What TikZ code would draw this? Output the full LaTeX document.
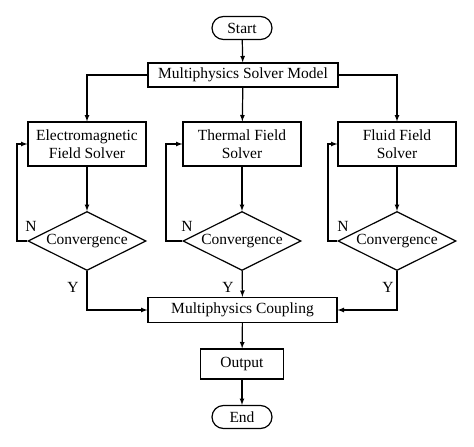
\documentclass[tikz,border=0pt]{standalone}
\usepackage{fontspec}
\setmainfont{Liberation Serif}
\usetikzlibrary{shapes.geometric}

\begin{document}
\begin{tikzpicture}[x=1pt,y=-1pt,line width=1.2pt,font=\fontsize{15.5}{18.5}\selectfont,
    term/.style={rectangle,rounded corners=11.5pt,draw,minimum width=60pt,minimum height=23pt,inner sep=0pt},
    box/.style={rectangle,draw,inner sep=0pt,align=center},
    solver/.style={box,minimum width=118pt,minimum height=44pt},
    test/.style={diamond,draw,aspect=2,inner sep=0pt,minimum width=118pt,minimum height=59pt}]
            \useasboundingbox (0,0) rectangle (474,447);
            \node (start) at (242,28) [term] {Start};
            \node (model) at (243,75) [box,minimum width=190pt,minimum height=24pt] {Multiphysics Solver Model};
            \node (em) at (87,144) [solver] {Electromagnetic\\Field Solver};
            \node (thermal) at (242,144) [solver] {Thermal Field\\Solver};
            \node (fluid) at (397,144) [solver] {Fluid Field\\Solver};
            \node (conv1) at (87,241) [test] {Convergence};
            \node (conv2) at (242,241) [test] {Convergence};
            \node (conv3) at (397,241) [test] {Convergence};
            \node (coupling) at (242.5,310) [box,minimum width=189pt,minimum height=25pt] {Multiphysics Coupling};
            \node (output) at (242,364) [box,minimum width=83pt,minimum height=30pt] {Output};
            \node (end) at (242,417) [term] {End};
            % loop corners
            \coordinate (back1) at (17,241);
            \coordinate (back2) at (166,241);
            \coordinate (back3) at (328,241);
            \draw [-latex] (start) -- (model);
            \draw [-latex] (model.west) -| (em.north);
            \draw [-latex] (model) -- (thermal);
            \draw [-latex] (model.east) -| (fluid.north);
            \draw [-latex] (em) -- (conv1);
            \draw [-latex] (thermal) -- (conv2);
            \draw [-latex] (fluid) -- (conv3);
            \draw [-latex] (conv1.west) -- (back1) |- (em.west);
            \draw [-latex] (conv2.west) -- (back2) |- (thermal.west);
            \draw [-latex] (conv3.west) -- (back3) |- (fluid.west);
            \node (n1) at (31,226) {N};
            \node (n2) at (187,226) {N};
            \node (n3) at (343,226) {N};
            \node (y1) at (73,287) {Y};
            \node (y2) at (228,287) {Y};
            \node (y3) at (388,287) {Y};
            \draw [-latex] (conv1.south) |- (coupling.west);
            \draw [-latex] (conv2) -- (coupling);
            \draw [-latex] (conv3.south) |- (coupling.east);
            \draw [-latex] (coupling) -- (output);
            \draw [-latex] (output) -- (end);
        \end{tikzpicture}
\end{document}
